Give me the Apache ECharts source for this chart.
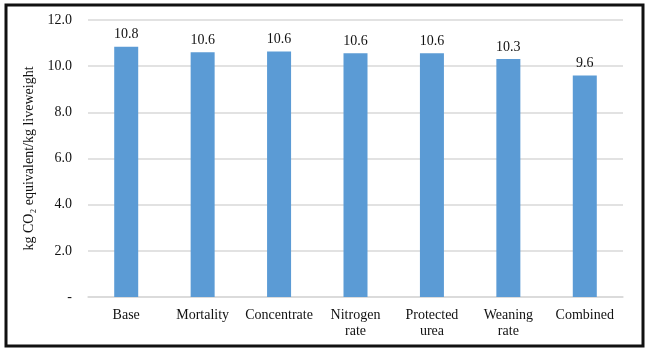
<!DOCTYPE html>
<html>
<head>
    <meta charset="utf-8">
    <title>Emissions chart</title>
    <script src="https://cdn.jsdelivr.net/npm/echarts@6/dist/echarts.min.js"></script>
    <style>
        body { margin: 0; background: #fff; }
    </style>
</head>
<body>
    <div id="main" style="width: 648px;height:353px;"></div>
    <script type="text/javascript">
        // data
        var categories = ['Base', 'Mortality', 'Concentrate', 'Nitrogen\nrate', 'Protected\nurea', 'Weaning\nrate', 'Combined'];
        var emissions = [10.84, 10.6, 10.63, 10.56, 10.56, 10.31, 9.6];
        var yTicks = [0, 2, 4, 6, 8, 10, 12];

        var font = 'Liberation Serif';
        var myChart = echarts.init(document.getElementById('main'));

        myChart.setOption({
            animation: false,
            backgroundColor: '#fff',
            graphic: [{
                type: 'rect',
                shape: { x: 6, y: 5, width: 637, height: 341 },
                style: { fill: 'none', stroke: '#111', lineWidth: 3 }
            }],
            grid: { left: 88, right: 25, top: 20, bottom: 56 },
            xAxis: {
                type: 'category',
                data: categories,
                axisTick: { show: false },
                axisLine: { lineStyle: { color: '#d9d9d9', width: 1.5 } },
                axisLabel: {
                    color: '#111', fontFamily: font, fontSize: 14,
                    margin: 10, lineHeight: 16, interval: 0
                }
            },
            yAxis: {
                type: 'value',
                min: yTicks[0],
                max: yTicks[yTicks.length - 1],
                interval: 2,
                name: 'kg CO\u2082 equivalent/kg liveweight',
                nameLocation: 'middle',
                nameGap: 51,
                nameTextStyle: { color: '#111', fontFamily: font, fontSize: 14 },
                axisLine: { show: false },
                axisTick: { show: false },
                splitLine: { lineStyle: { color: '#d9d9d9', width: 1.5 } },
                axisLabel: {
                    color: '#111', fontFamily: font, fontSize: 14, margin: 16,
                    formatter: function (v) { return v === 0 ? '-' : v.toFixed(1); }
                }
            },
            series: [{
                type: 'bar',
                data: emissions,
                barWidth: 24,
                itemStyle: { color: '#5b9bd5' },
                label: {
                    show: true,
                    position: 'top',
                    distance: 5,
                    color: '#111',
                    fontFamily: font,
                    fontSize: 14,
                    formatter: function (p) { return p.value.toFixed(1); }
                }
            }]
        });
    </script>
</body>
</html>
